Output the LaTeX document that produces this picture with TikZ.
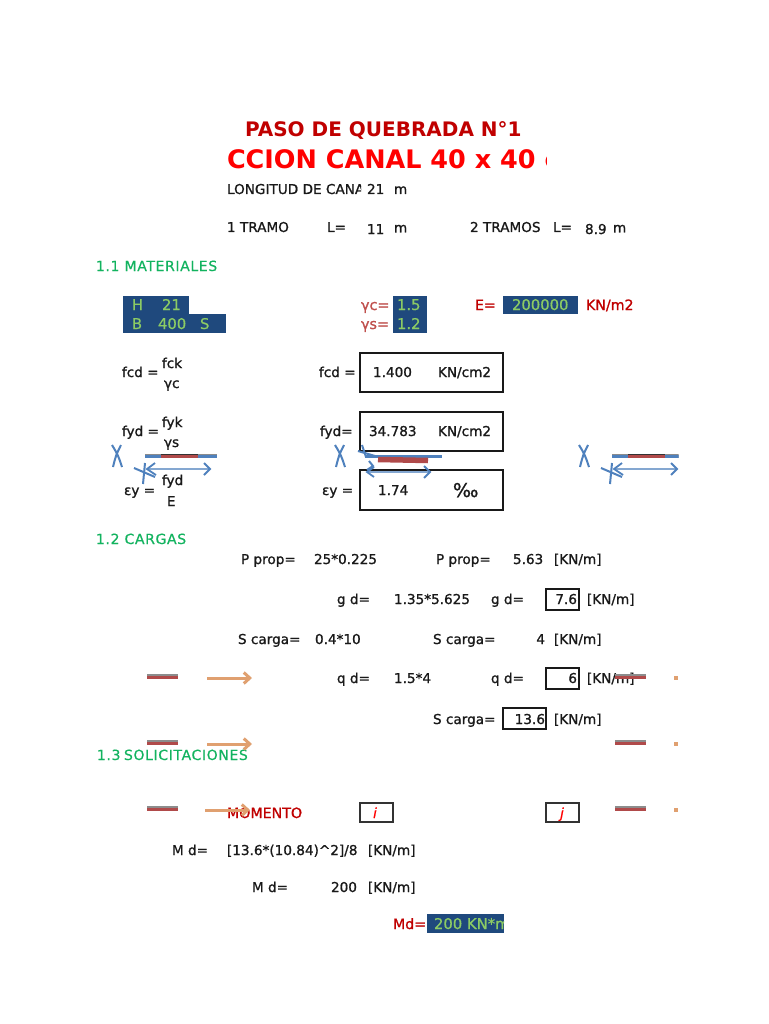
\documentclass[tikz,border=0pt]{standalone}
\usepackage{fontspec}
\setmainfont[FakeBold=1.1]{DejaVu Sans}
\newfontfamily\plainf[FakeBold=0.5]{DejaVu Sans}
\newfontfamily\secf[LetterSpace=4.5,FakeBold=0.5]{DejaVu Sans}
\newfontfamily\boldf{DejaVu Sans Bold}
\usetikzlibrary{arrows.meta}
\definecolor{cellblue}{HTML}{1F497D}
\definecolor{cellgreen}{HTML}{8CCB64}
\definecolor{secgreen}{HTML}{12B35F}
\definecolor{dkred}{HTML}{C00000}
\definecolor{softred}{HTML}{C0504D}
\definecolor{sketchblue}{HTML}{4F81BD}
\definecolor{sketchred}{HTML}{B04A4A}
\definecolor{sketchorange}{HTML}{E0A070}
\tikzset{
 t/.style={anchor=base west,inner sep=0pt,outer sep=0pt,text=black!90,font=\fontsize{13.6}{15}\selectfont},
 tr/.style={t,anchor=base east},
 sec/.style={t,text=secgreen,font=\secf\fontsize{14}{15}\selectfont},
 cell/.style={t,text=cellgreen,font=\plainf\fontsize{14.8}{15}\selectfont},
 redt/.style={t,text=dkred,font=\fontsize{14.2}{15}\selectfont},
 softt/.style={t,text=softred,font=\fontsize{14.4}{15}\selectfont},
 bigbox/.style={draw=black!90,line width=2.7pt},
 thinbox/.style={draw=black!80,line width=1.1pt},
 xmark/.style={draw=sketchblue,line width=2pt},
 barblue/.style={draw=sketchblue,line width=3.4pt},
 barred/.style={draw=sketchred,line width=3.4pt},
 dimarrow/.style={draw=sketchblue!70,line width=1.2pt},
 dimtip/.style={draw=sketchblue,line width=1.8pt},
 orangearrow/.style={draw=sketchorange,line width=3pt,-{Straight Barb[length=6pt,width=11pt]}},
 graybar/.style={draw=black!45,line width=3.4pt}
}
\begin{document}
\begin{tikzpicture}[x=1pt,y=-1pt]
\useasboundingbox[fill=white] (0,0) rectangle (768,1024);
% filled cells
\fill[cellblue] (123,296) rectangle (189,314);
\fill[cellblue] (123,314) rectangle (226,333);
\fill[cellblue] (393,296) rectangle (427,333);
\fill[cellblue] (503,296) rectangle (578,314);
\fill[cellblue] (427,914) rectangle (504,933);
% boxes
\draw[bigbox] (360,353) rectangle (503,392);
\draw[bigbox] (360,412) rectangle (503,451);
\draw[bigbox] (360,470) rectangle (503,510);
\draw[bigbox,line width=2.3pt] (546,589) rectangle (579,610);
\draw[bigbox,line width=2.3pt] (546,668) rectangle (579,689);
\draw[bigbox,line width=2.3pt] (503,708) rectangle (546,729);
\draw[thinbox] (360,803) rectangle (393,822);
\draw[thinbox] (546,803) rectangle (579,822);
% titles
\node[t,text=dkred,font=\boldf\fontsize{20}{22}\selectfont] (title1) at (245,137) {PASO DE QUEBRADA N°1};
\begin{scope}
\clip (220,140) rectangle (546,180);
\node[t,text=red,font=\boldf\fontsize{25.5}{28}\selectfont] (title2) at (227,168.5) {CCION CANAL 40 x 40 c};
\end{scope}
\begin{scope}
\clip (220,175) rectangle (361,200);
\node[t] (lon) at (227,194) {LONGITUD DE CANAL};
\end{scope}
\node[t] (lonv) at (367,194) {21};
\node[t] (lonm) at (394,194) {m};
\node[t] (tr1) at (227,232) {1 TRAMO};
\node[t] (tr1l) at (327,232) {L=};
\node[t] (tr1v) at (367,234) {11};
\node[t] (tr1m) at (394,232.5) {m};
\node[t] (tr2) at (470,232) {2 TRAMOS};
\node[t] (tr2l) at (553,232) {L=};
\node[t] (tr2v) at (585,234) {8.9};
\node[t] (tr2m) at (613,232.5) {m};
\node[sec] (s11) at (96,271) {1.1 MATERIALES};
% material cells
\node[cell] (ch) at (132,310) {H};
\node[cell] (chv) at (162,310) {21};
\node[cell] (cb) at (132,329) {B};
\node[cell] (cbv) at (158,329) {400};
\node[cell] (cs) at (200,329) {S};
\node[softt] (gc) at (361,310) {γc=};
\node[cell] (gcv) at (397,310) {1.5};
\node[softt] (gs) at (361,329) {γs=};
\node[cell] (gsv) at (397,329) {1.2};
\node[redt] (ee) at (475,310) {E=};
\node[cell] (eev) at (512,310) {200000};
\node[redt] (eeu) at (586,310) {KN/m2};
% formulas
\node[t] (f1) at (122,377) {fcd =};
\node[t] (f1a) at (162,368) {fck};
\node[t] (f1b) at (164,388) {γc};
\node[t] (f2) at (319,377) {fcd =};
\node[t] (f2v) at (373,377) {1.400};
\node[t] (f2u) at (438,377) {KN/cm2};
\node[t] (f3) at (122,436) {fyd =};
\node[t] (f3a) at (162,427) {fyk};
\node[t] (f3b) at (164,447) {γs};
\node[t] (f4) at (320,436) {fyd=};
\node[t] (f4v) at (369,436) {34.783};
\node[t] (f4u) at (438,436) {KN/cm2};
\node[t] (f5) at (124,495) {εy =};
\node[t] (f5a) at (162,485) {fyd};
\node[t] (f5b) at (167,506) {E};
\node[t] (f6) at (322,495) {εy =};
\node[t] (f6v) at (378,495) {1.74};
\node[t,font=\fontsize{19}{22}\selectfont] (f6u) at (453,497) {‰};
% cargas
\node[sec] (s12) at (96,544) {1.2 CARGAS};
\node[t] (c1) at (241,564) {P prop=};
\node[t] (c1v) at (314,564) {25*0.225};
\node[t] (c1b) at (436,564) {P prop=};
\node[t] (c1w) at (513,564) {5.63};
\node[t] (c1u) at (554,564) {[KN/m]};
\node[t] (c2) at (337,604) {g d=};
\begin{scope}
\clip (390,590) rectangle (470,612);
\node[t] (c2v) at (394,604) {1.35*5.625};
\end{scope}
\node[t] (c2b) at (491,604) {g d=};
\node[tr] (c2w) at (577,604) {7.6};
\node[t] (c2u) at (587,604) {[KN/m]};
\node[t] (c3) at (238,644) {S carga=};
\node[t] (c3v) at (315,644) {0.4*10};
\node[t] (c3b) at (433,644) {S carga=};
\node[tr] (c3w) at (545,644) {4};
\node[t] (c3u) at (554,644) {[KN/m]};
\node[t] (c4) at (337,683) {q d=};
\node[t] (c4v) at (394,683) {1.5*4};
\node[t] (c4b) at (491,683) {q d=};
\node[tr] (c4w) at (577,683) {6};
\node[t] (c4u) at (587,683) {[KN/m]};
\node[t] (c5) at (433,724) {S carga=};
\node[tr] (c5w) at (545,724) {13.6};
\node[t] (c5u) at (554,724) {[KN/m]};
% solicitaciones
\node[sec] (s13) at (97,760) {1.3};
\node[sec] (s13b) at (124,760) {SOLICITACIONES};
\node[redt] (mom) at (227,818) {MOMENTO};
\node[t,text=red,anchor=base,font=\plainf\itshape\fontsize{14}{15}\selectfont] (ii) at (375,818) {i};
\node[t,text=red,anchor=base,font=\plainf\itshape\fontsize{14}{15}\selectfont] (jj) at (562,818) {j};
\node[t] (md1) at (172,855) {M d=};
\node[t] (md1v) at (227,855) {[13.6*(10.84)\string^2]/8};
\node[t] (md1u) at (368,855) {[KN/m]};
\node[t] (md2) at (252,892) {M d=};
\node[t] (md2v) at (331,892) {200};
\node[t] (md2u) at (368,892) {[KN/m]};
\node[redt] (md3) at (393,929) {Md=};
\begin{scope}
\clip (427,914) rectangle (504,933);
\node[cell] (md3v) at (434,929) {200 KN*m};
\end{scope}
% hand sketch marks
\begin{scope}
\clip (0,0) rectangle (678.5,1024);
\foreach \dx/\nm in {0/a,467/c}{
 \begin{scope}[xshift=\dx pt]
 \coordinate (x1\nm) at (112,445); \coordinate (x2\nm) at (122,467);
 \coordinate (x3\nm) at (121,445); \coordinate (x4\nm) at (113,467);
 \draw[xmark] (x1\nm) .. controls (118,455) .. (x2\nm);
 \draw[xmark] (x3\nm) .. controls (116,455) .. (x4\nm);
 \coordinate (y1\nm) at (134,468); \coordinate (y2\nm) at (155,477);
 \coordinate (y3\nm) at (145,463); \coordinate (y4\nm) at (143,484);
 \draw[xmark] (y1\nm) -- (y2\nm);
 \draw[xmark] (y3\nm) -- (y4\nm);
 \coordinate (b1\nm) at (145,456); \coordinate (b2\nm) at (217,456);
 \coordinate (r1\nm) at (161,456); \coordinate (r2\nm) at (198,456);
 \draw[graybar] (b1\nm) -- (b2\nm);
 \draw[barblue,line width=2.6pt] ([yshift=-0.4pt]b1\nm) -- ([yshift=-0.4pt]b2\nm);
 \draw[barred,line width=4pt] (r1\nm) -- (r2\nm);
 \draw[black!80,line width=1.2pt] ([yshift=1.6pt]r1\nm) -- ([yshift=1.6pt]r2\nm);
 \coordinate (a1\nm) at (147,469); \coordinate (a2\nm) at (210,469);
 \draw[dimarrow] (a1\nm) -- (a2\nm);
 \coordinate (t1\nm) at (155,463); \coordinate (t2\nm) at (156,475);
 \coordinate (t3\nm) at (204,463); \coordinate (t4\nm) at (204,475);
 \draw[dimtip] (t1\nm) -- (a1\nm) -- (t2\nm);
 \draw[dimtip] (t3\nm) -- (a2\nm) -- (t4\nm);
 \end{scope}
}
% middle group
\coordinate (mx1) at (335,445); \coordinate (mx2) at (345,467);
\coordinate (mx3) at (344,445); \coordinate (mx4) at (336,467);
\draw[xmark] (mx1) .. controls (341,455) .. (mx2);
\draw[xmark] (mx3) .. controls (339,455) .. (mx4);
\coordinate (my1) at (358,451); \coordinate (my2) at (375,456);
\coordinate (my3) at (362,445); \coordinate (my4) at (366,457);
\draw[xmark] (my1) -- (my2);
\draw[xmark] (my3) -- (my4);
\coordinate (mb1) at (365,456.5); \coordinate (mb2) at (442,456.5);
\draw[barblue,line width=3.6pt] (mb1) -- (mb2);
\coordinate (mr1) at (378,459.5); \coordinate (mr2) at (428,460.5);
\draw[barred,line width=5.5pt] (mr1) -- (mr2);
\coordinate (ms1) at (369,461); \coordinate (ms2) at (373,466);
\coordinate (ms3) at (367,470);
\draw[xmark] (ms1) -- (ms2) -- (ms3);
\coordinate (ma1) at (367,472); \coordinate (ma2) at (430,472);
\draw[dimarrow] (ma1) -- (ma2);
\coordinate (mt1) at (374,467); \coordinate (mt2) at (374,477);
\coordinate (mt3) at (424,466); \coordinate (mt4) at (424,478);
\draw[dimtip] (mt1) -- (ma1) -- (mt2);
\draw[dimtip] (mt3) -- (ma2) -- (mt4);
% load rows
\foreach \yy/\ax/\nm in {677/207/p,743/207/q,809/205/r}{
 \coordinate (dl1\nm) at (147,\yy); \coordinate (dl2\nm) at (178,\yy);
 \coordinate (dr1\nm) at (615,\yy); \coordinate (dr2\nm) at (646,\yy);
 \draw[graybar,line width=3pt] ([yshift=1.2pt]dl1\nm) -- ([yshift=1.2pt]dl2\nm);
 \draw[barred,line width=2.4pt] ([yshift=-0.3pt]dl1\nm) -- ([yshift=-0.3pt]dl2\nm);
 \draw[graybar,line width=3pt] ([yshift=1.2pt]dr1\nm) -- ([yshift=1.2pt]dr2\nm);
 \draw[barred,line width=2.4pt] ([yshift=-0.3pt]dr1\nm) -- ([yshift=-0.3pt]dr2\nm);
 \coordinate (oa\nm) at (\ax,\yy+1); \coordinate (ob\nm) at (\ax+45,\yy+1);
 \draw[orangearrow] (oa\nm) -- (ob\nm);
 \coordinate (oc\nm) at (674,\yy+1); \coordinate (od\nm) at (678,\yy+1);
 \draw[sketchorange,line width=4pt] (oc\nm) -- (od\nm);
}
\end{scope}
\end{tikzpicture}
\end{document}
